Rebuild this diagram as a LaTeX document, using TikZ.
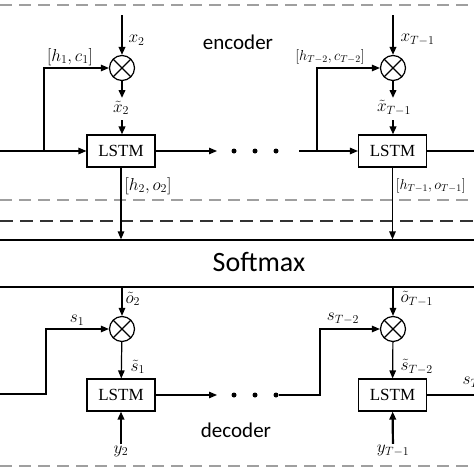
\documentclass[tikz,border=0pt]{standalone}
\usepackage{fontspec}
\setmainfont{Liberation Serif}
\newfontfamily\labfont{Carlito}
\usetikzlibrary{arrows.meta}

\begin{document}
\begin{tikzpicture}[
  x=1pt,y=-1pt,
  line width=1.2pt,
  lstm/.style={draw,line width=1.1pt,minimum width=68pt,minimum height=32pt,inner sep=0pt,font=\fontsize{17}{17}\selectfont},
  mul/.style={draw,circle,line width=1.2pt,minimum size=25pt,inner sep=0pt,
    path picture={\draw[line width=1.1pt] (path picture bounding box.north west) -- (path picture bounding box.south east)
      (path picture bounding box.north east) -- (path picture bounding box.south west);}},
  lab/.style={font=\fontsize{16.5}{16.5}\selectfont,inner sep=1pt},
  slab/.style={font=\fontsize{14.5}{14.5}\selectfont,inner sep=1pt},
  big/.style={font=\labfont\fontsize{21}{21}\selectfont},
  pt/.style={circle,fill,minimum size=5pt,inner sep=0pt},
  a/.style={-{Triangle[length=8pt,width=6.5pt]}},
  ta/.style={a,line width=2.2pt},
  sepl/.style={dash pattern=on 12pt off 7pt,gray!75,line width=1.2pt},
  sepd/.style={dash pattern=on 13pt off 7pt,black!80,line width=1.5pt}
]
\useasboundingbox (0,0) rectangle (474,474);
\clip (0,0) rectangle (474,474);

% separators
\draw[sepl] (0,5) -- (474,5);
\draw[sepl] (0,200) -- (474,200);
\draw[sepd] (0,221) -- (474,221);
\draw[sepl] (0,466) -- (474,466);

% softmax
\node[draw,minimum width=500pt,minimum height=47pt,inner sep=0pt] (soft) at (237,263.5) {};
\node[font=\labfont\fontsize{28}{28}\selectfont] (smx) at (259,262) {Softmax};

% encoder
\node[big] (enc) at (238,42) {encoder};
\node[mul] (em1) at (122,68) {};
\node[mul] (em2) at (393,68) {};
\node[lstm] (el1) at (121,151) {LSTM};
\node[lstm] (el2) at (392.5,151) {LSTM};
\node[pt] (ep1) at (234,151) {};
\node[pt] (ep2) at (255,151) {};
\node[pt] (ep3) at (276,151) {};

\coordinate (ein) at (-5,151);
\coordinate (eb1) at (44,151);
\coordinate (x1) at (122,15);
\coordinate (e1a) at (122,98);
\coordinate (e1b) at (122,120);
\coordinate (e1c) at (217,151);
\coordinate (ein2) at (299,151);
\coordinate (eb2) at (317,151);
\coordinate (x2) at (393,15);
\coordinate (e2a) at (393,98);
\coordinate (e2b) at (393,120);
\coordinate (eout) at (480,151);

\draw[a] (ein) -- (el1);
\draw[a] (eb1) |- (em1);
\draw[ta] (x1) -- (em1);
\draw[ta] (em1) -- (e1a);
\draw[ta] (e1b) -- (e1b |- el1.north);
\draw[a] (el1) -- (e1c);
\draw[a] (el1) -- (el1 |- soft.north);

\draw[a] (ein2) -- (el2);
\draw[a] (eb2) |- (em2);
\draw[ta] (x2) -- (em2);
\draw[ta] (em2) -- (e2a);
\draw[ta] (e2b) -- (e2b |- el2.north);
\draw (el2) -- (eout);
\draw[a] (el2) -- (el2 |- soft.north);

\node[lab,anchor=west] (lx1) at (127,40) {$x_2$};
\node[lab] (lhc1) at (70,57) {$[h_1,c_1]$};
\node[lab] (ltx1) at (121,108) {$\tilde{x}_2$};
\node[lab,anchor=west] (lho1) at (123,186) {$[h_2,o_2]$};
\node[lab,anchor=west] (lx2) at (399,40) {$x_{T-1}$};
\node[slab] (lhc2) at (330,57) {$[h_{T-2},c_{T-2}]$};
\node[lab] (ltx2) at (394,108) {$\tilde{x}_{T-1}$};
\node[slab,anchor=west] (lho2) at (394,186) {$[h_{T-1},o_{T-1}]$};

% decoder
\node[big] (dec) at (236,430) {decoder};
\node[mul] (dm1) at (122,329) {};
\node[mul] (dm2) at (393,329) {};
\node[lstm] (dl1) at (121,395) {LSTM};
\node[lstm] (dl2) at (392.5,395) {LSTM};
\node[pt] (dp1) at (234,395) {};
\node[pt] (dp2) at (255,395) {};
\node[pt] (dp3) at (276,395) {};
\node[lab] (ly1) at (121,451) {$y_2$};
\node[lab] (ly2) at (393,451) {$y_{T-1}$};

\coordinate (din) at (-5,394);
\coordinate (db1) at (46,394);
\coordinate (d1c) at (217,395);
\coordinate (db2) at (320,395);
\coordinate (dout) at (480,395);

\draw[a] (din) -- (db1) |- (dm1);
\draw[a] (dm1 |- soft.south) -- (dm1);
\draw[a] (dm1) -- (dl1);
\draw[ta] (ly1) -- (dl1);
\draw[a] (dl1) -- (d1c);

\draw[a] (dp3) -- (db2) |- (dm2);
\draw[a] (dm2 |- soft.south) -- (dm2);
\draw[a] (dm2) -- (dl2);
\draw[ta] (ly2) -- (dl2);
\draw (dl2) -- (dout);

\node[lab,anchor=west] (lto1) at (124,299) {$\tilde{o}_2$};
\node[lab] (ls1) at (77,320) {$s_1$};
\node[lab,anchor=west] (lts1) at (129,367) {$\tilde{s}_1$};
\node[lab,anchor=west] (lto2) at (399,299) {$\tilde{o}_{T-1}$};
\node[lab] (ls2) at (343,319) {$s_{T-2}$};
\node[lab,anchor=west] (lts2) at (399,367) {$\tilde{s}_{T-2}$};
\node[lab,anchor=west] (ls3) at (461,383) {$s_{T-1}$};
\end{tikzpicture}
\end{document}
